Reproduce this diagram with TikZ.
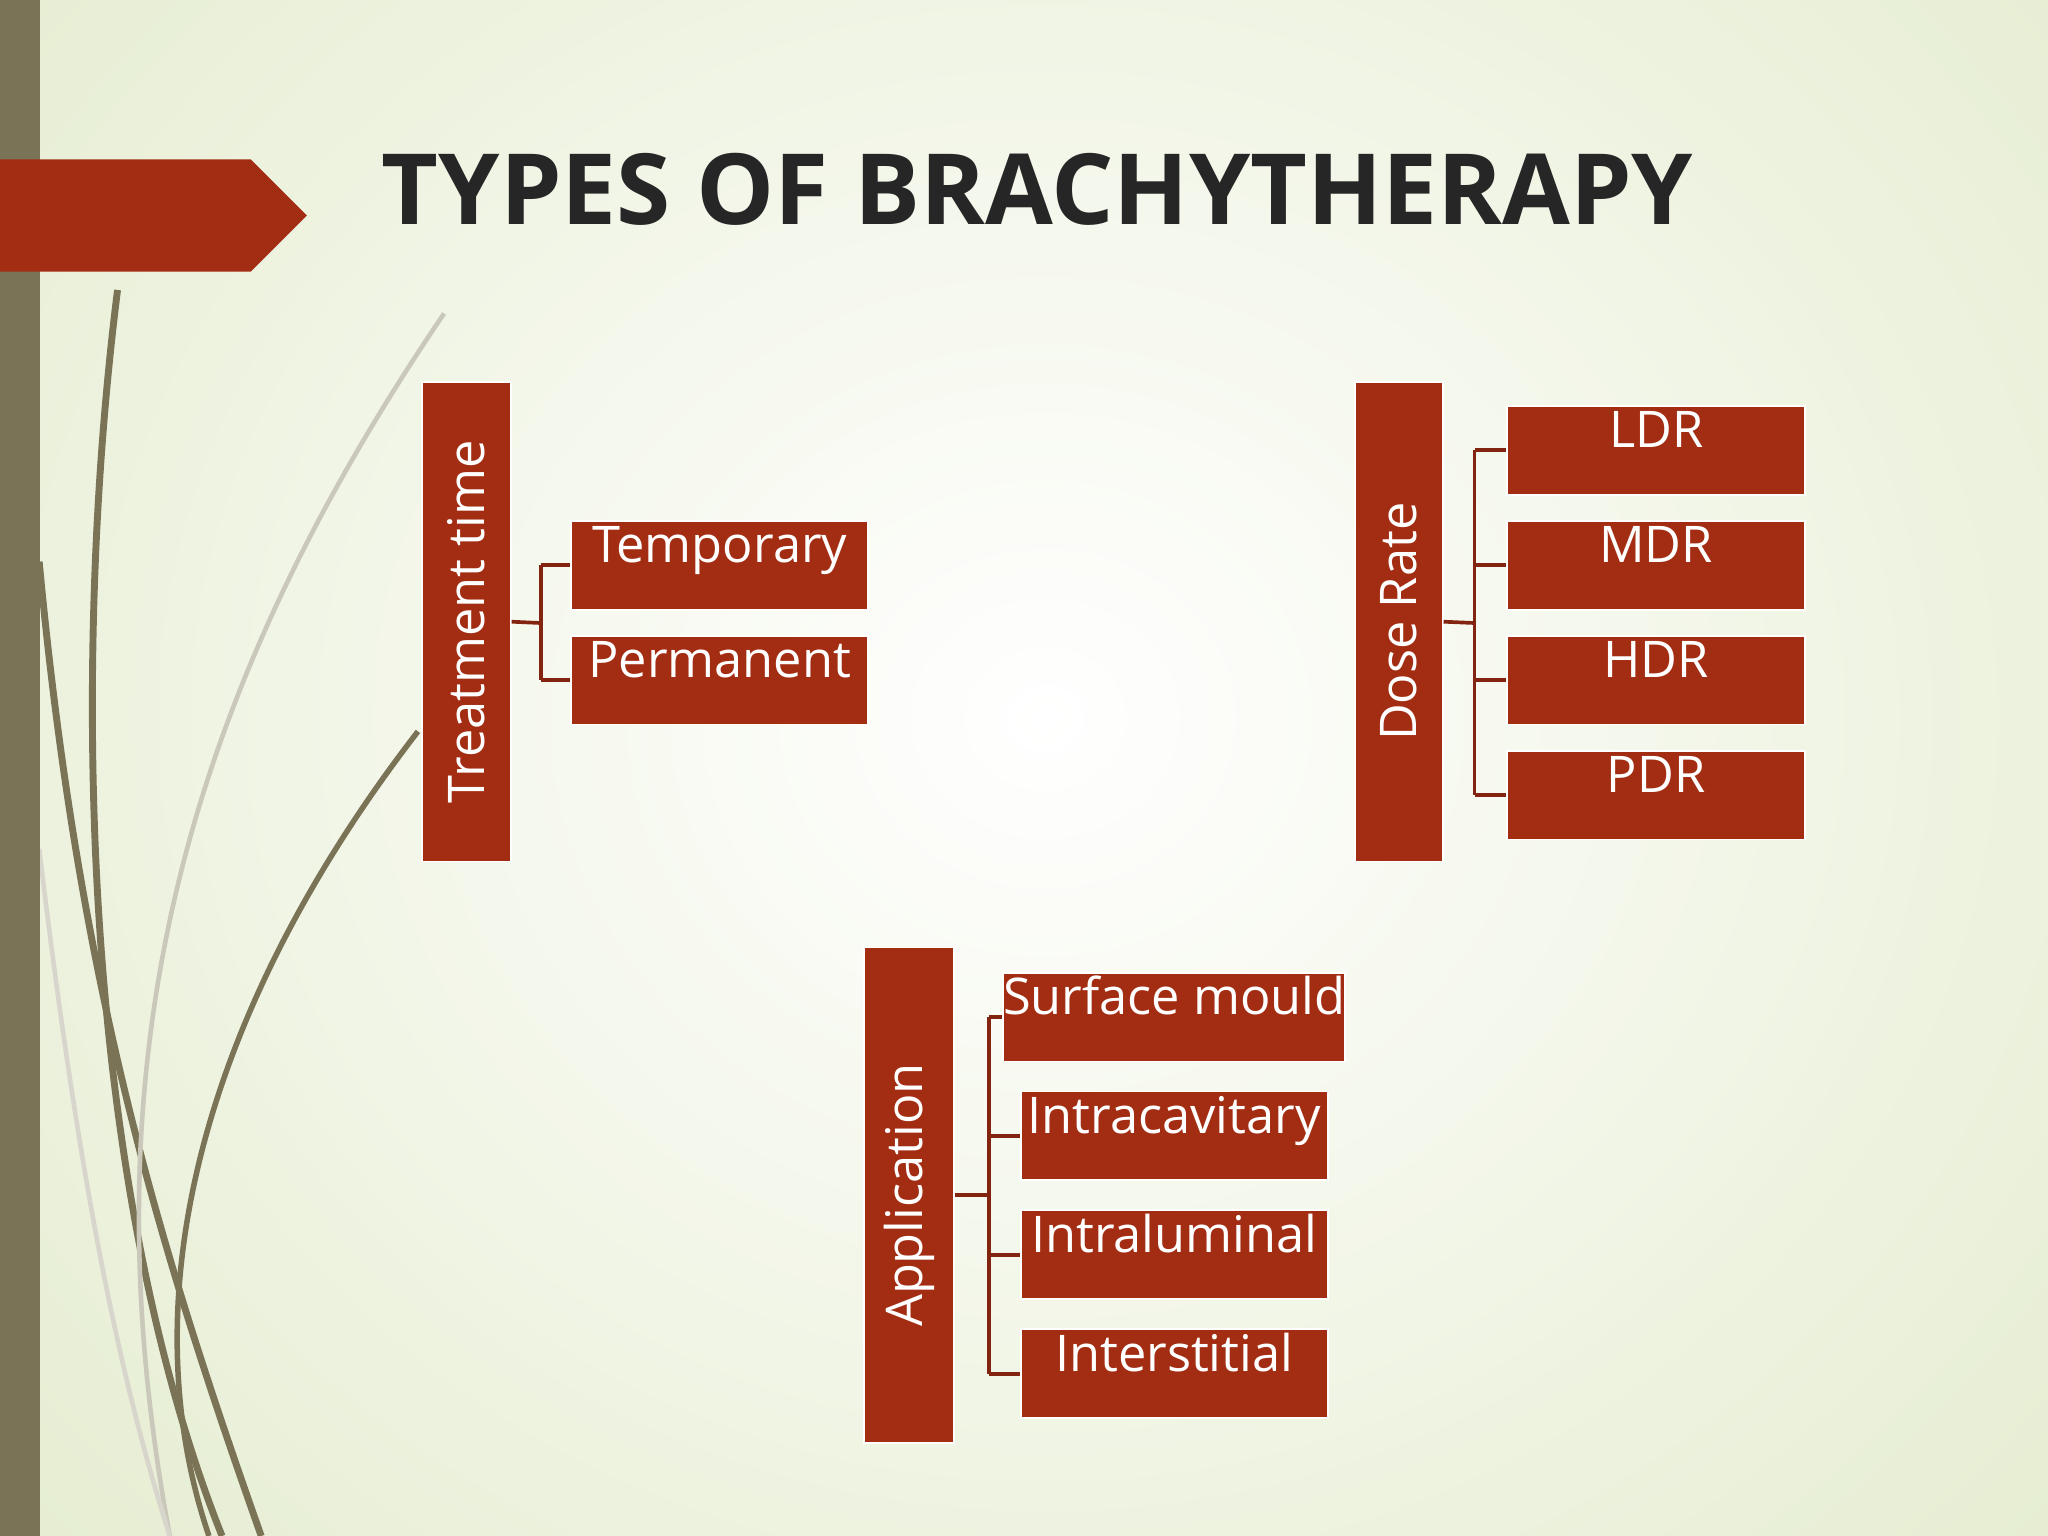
\documentclass[tikz,border=0pt]{standalone}
\usepackage{fontspec}
\setmainfont{Open Sans}
\usetikzlibrary{positioning, calc}
\definecolor{brick}{HTML}{A32D13}
\definecolor{olive}{HTML}{7A7356}
\definecolor{pale}{HTML}{DDE7C2}
\definecolor{ink}{HTML}{262626}
\begin{document}
\begin{tikzpicture}[x=0.01cm, y=-0.01cm,
  catbox/.style = {draw=white, thin, fill=brick, text=white, font=\fontsize{11}{13}\selectfont, rotate=90, align=center},
  leafbox/.style = {draw=white, thin, fill=brick, text=white, font=\fontsize{11}{13}\selectfont, anchor=north, text height=0.29cm, text depth=0.33cm, inner ysep=0.03cm, inner xsep=0pt},
  link/.style = {draw=brick!80!black, thick}
]
% background
\useasboundingbox (0,0) rectangle (1568,1176);
\shade[inner color=white, outer color=pale] (-600,-700) rectangle (2200,1800);
% decorative curves
\draw[olive, line width=1.5pt] (90,222) .. controls (55,500) and (60,900) .. (170,1176);
\draw[olive, line width=1.5pt] (30,430) .. controls (60,750) and (120,950) .. (200,1176);
\draw[olive, line width=1.2pt] (320,560) .. controls (150,780) and (100,1000) .. (160,1176);
\draw[olive!40, line width=1pt] (340,240) .. controls (150,520) and (60,800) .. (130,1176);
\draw[olive!30, line width=1pt] (30,650) .. controls (60,900) and (90,1050) .. (130,1176);
\fill[olive] (0,0) rectangle (31,1176);
\fill[brick] (0,122) -- (192,122) -- (235,165) -- (192,208) -- (0,208) -- cycle;
% title
\node[anchor=west, text=ink, font=\fontsize{21.4}{24}\bfseries\selectfont] (title) at (280,145) {TYPES OF BRACHYTHERAPY};
% treatment time
\node[catbox, minimum width=3.67cm, minimum height=0.68cm] (treat) at (357,476) {Treatment time};
\node[leafbox, minimum width=2.27cm] (temp) at (551,398) {Temporary};
\node[leafbox, minimum width=2.27cm] (perm) at (551,486) {Permanent};
\coordinate (tj) at (414,477);
\draw[link] (treat.south) -- (tj);
\foreach \n in {temp, perm}
  \draw[link] (tj |- \n.west) -- (\n.west);
\draw[link] (tj |- temp.west) -- (tj |- perm.west);
% dose rate
\node[catbox, minimum width=3.67cm, minimum height=0.67cm] (dose) at (1071,476) {Dose Rate};
\node[leafbox, minimum width=2.28cm] (ldr) at (1268,310) {LDR};
\node[leafbox, minimum width=2.28cm] (mdr) at (1268,398) {MDR};
\node[leafbox, minimum width=2.28cm] (hdr) at (1268,486) {HDR};
\node[leafbox, minimum width=2.28cm] (pdr) at (1268,574) {PDR};
\coordinate (dj) at (1129,477);
\draw[link] (dose.south) -- (dj);
\foreach \n in {ldr, mdr, hdr, pdr}
  \draw[link] (dj |- \n.west) -- (\n.west);
\draw[link] (dj |- ldr.west) -- (dj |- pdr.west);
% application
\node[catbox, minimum width=3.79cm, minimum height=0.69cm] (appl) at (696,915) {Application};
\node[leafbox, minimum width=2.35cm] (surf) at (899,744) {Surface mould};
\node[leafbox, minimum width=2.35cm] (cav) at (899,835) {Intracavitary};
\node[leafbox, minimum width=2.35cm] (lum) at (899,926) {Intraluminal};
\node[leafbox, minimum width=2.35cm] (inter) at (899,1017) {Interstitial};
\coordinate (aj) at (757,915);
\draw[link] (appl.south) -- (aj);
\foreach \n in {surf, cav, lum, inter}
  \draw[link] (aj |- \n.west) -- (\n.west);
\draw[link] (aj |- surf.west) -- (aj |- inter.west);
\end{tikzpicture}
\end{document}
